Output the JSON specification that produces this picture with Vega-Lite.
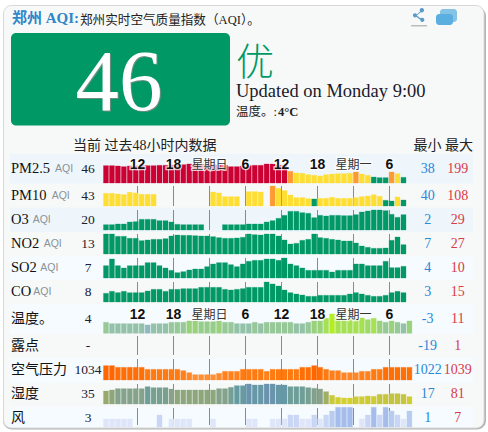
{"$schema":"https://vega.github.io/schema/vega-lite/v6.json","width":488,"height":432,"padding":0,"autosize":{"type":"none"},"background":"white","config":{"view":{"stroke":null},"scale":{"continuousPadding":0},"text":{"font":"Liberation Serif, Noto Sans CJK SC"}},
"datasets":{
"one":[{"item":1}],
"rows":[{"row":0,"label":"PM2.5","unit":"AQI","current":"46","min":"38","max":"199"},{"row":1,"label":"PM10","unit":"AQI","current":"43","min":"40","max":"108"},{"row":2,"label":"O3","unit":"AQI","current":"20","min":"2","max":"29"},{"row":3,"label":"NO2","unit":"AQI","current":"13","min":"7","max":"27"},{"row":4,"label":"SO2","unit":"AQI","current":"7","min":"4","max":"10"},{"row":5,"label":"CO","unit":"AQI","current":"8","min":"3","max":"15"},{"row":6,"label":"温度。","current":"4","min":"-3","max":"11"},{"row":7,"label":"露点","current":"-","min":"-19","max":"1"},{"row":8,"label":"空气压力","current":"1034","min":"1022","max":"1039"},{"row":9,"label":"湿度","current":"35","min":"17","max":"81"},{"row":10,"label":"风","current":"3","min":"1","max":"7"}],
"stripes":[{"row":0,"rowEnd":1,"tone":"strong"},{"row":2,"rowEnd":3,"tone":"strong"},{"row":4,"rowEnd":5,"tone":"soft"},{"row":6,"rowEnd":7,"tone":"soft"},{"row":8,"rowEnd":9,"tone":"soft"},{"row":10,"rowEnd":11,"tone":"soft"}],
"spans":[{"from":0,"to":1,"hour":[12,18,24,30,36,42,48,54]},{"from":2,"to":3,"hour":[12,18,24,30,36,42,48,54]},{"from":4,"to":5,"hour":[12,18,24,30,36,42,48,54]},{"from":6,"to":7,"hour":[12,18,24,30,36,42,48,54]},{"from":8,"to":9,"hour":[12,18,24,30,36,42,48,54]},{"from":10,"to":11,"hour":[12,18,24,30,36,42,48,54]},{"from":12,"to":13,"hour":[12,18,24,30,36,42,48,54]},{"from":14,"to":15,"hour":[12,18,24,30,36,42,48,54]},{"from":16,"to":17,"hour":[12,18,24,30,36,42,48,54]}],
"hourLabels":[{"band":0,"hour":12,"text":"12"},{"band":0,"hour":18,"text":"18"},{"band":0,"hour":30,"text":"6"},{"band":0,"hour":36,"text":"12"},{"band":0,"hour":42,"text":"18"},{"band":0,"hour":54,"text":"6"},{"band":1,"hour":12,"text":"12"},{"band":1,"hour":18,"text":"18"},{"band":1,"hour":30,"text":"6"},{"band":1,"hour":36,"text":"12"},{"band":1,"hour":42,"text":"18"},{"band":1,"hour":54,"text":"6"}],
"dayLabels":[{"band":0,"hour":24,"text":"星期日"},{"band":0,"hour":48,"text":"星期一"},{"band":1,"hour":24,"text":"星期日"},{"band":1,"hour":48,"text":"星期一"}],
"pm25":[{"hour":0,"level":52,"band":"u"},{"hour":1,"level":52,"band":"u"},{"hour":2,"level":51,"band":"u"},{"hour":3,"level":49,"band":"u"},{"hour":4,"level":51,"band":"u"},{"hour":5,"level":51,"band":"u"},{"hour":6,"level":52,"band":"u"},{"hour":7,"level":52,"band":"u"},{"hour":8,"level":52,"band":"u"},{"hour":9,"level":53,"band":"u"},{"hour":10,"level":53,"band":"u"},{"hour":11,"level":53,"band":"u"},{"hour":12,"level":53,"band":"u"},{"hour":13,"level":55,"band":"u"},{"hour":14,"level":57,"band":"u"},{"hour":15,"level":57,"band":"u"},{"hour":16,"level":57,"band":"u"},{"hour":17,"level":55,"band":"u"},{"hour":18,"level":55,"band":"u"},{"hour":19,"level":54,"band":"u"},{"hour":20,"level":53,"band":"u"},{"hour":21,"level":49,"band":"u"},{"hour":22,"level":49,"band":"u"},{"hour":23,"level":51,"band":"u"},{"hour":24,"level":52,"band":"u"},{"hour":25,"level":53,"band":"u"},{"hour":26,"level":53,"band":"u"},{"hour":27,"level":57,"band":"u"},{"hour":28,"level":57,"band":"u"},{"hour":29,"level":53,"band":"u"},{"hour":30,"level":53,"band":"u"},{"hour":31,"level":35,"band":"s"},{"hour":32,"level":30,"band":"m"},{"hour":33,"level":29,"band":"m"},{"hour":34,"level":25,"band":"m"},{"hour":35,"level":23,"band":"m"},{"hour":36,"level":21,"band":"m"},{"hour":37,"level":25,"band":"m"},{"hour":38,"level":27,"band":"m"},{"hour":39,"level":28,"band":"m"},{"hour":40,"level":28,"band":"m"},{"hour":41,"level":29,"band":"m"},{"hour":42,"level":33,"band":"s"},{"hour":43,"level":27,"band":"m"},{"hour":44,"level":23,"band":"m"},{"hour":45,"level":18,"band":"g"},{"hour":46,"level":16,"band":"g"},{"hour":47,"level":16,"band":"g"},{"hour":48,"level":33,"band":"s"},{"hour":49,"level":28,"band":"m"},{"hour":50,"level":17,"band":"g"}],
"pm10":[{"hour":0,"level":38,"band":"m"},{"hour":1,"level":38,"band":"m"},{"hour":2,"level":36,"band":"m"},{"hour":3,"level":34,"band":"m"},{"hour":4,"level":41,"band":"m"},{"hour":5,"level":39,"band":"m"},{"hour":6,"level":35,"band":"m"},{"hour":7,"level":35,"band":"m"},{"hour":8,"level":35,"band":"m"},{"hour":18,"level":42,"band":"m"},{"hour":19,"level":39,"band":"m"},{"hour":20,"level":28,"band":"m"},{"hour":21,"level":28,"band":"m"},{"hour":22,"level":28,"band":"m"},{"hour":24,"level":43,"band":"m"},{"hour":25,"level":43,"band":"m"},{"hour":26,"level":42,"band":"m"},{"hour":28,"level":60,"band":"s"},{"hour":29,"level":53,"band":"m"},{"hour":30,"level":46,"band":"m"},{"hour":31,"level":33,"band":"m"},{"hour":32,"level":25,"band":"m"},{"hour":33,"level":25,"band":"m"},{"hour":34,"level":22,"band":"m"},{"hour":35,"level":21,"band":"g"},{"hour":36,"level":23,"band":"m"},{"hour":37,"level":23,"band":"m"},{"hour":38,"level":26,"band":"m"},{"hour":39,"level":23,"band":"m"},{"hour":40,"level":23,"band":"m"},{"hour":41,"level":23,"band":"m"},{"hour":42,"level":25,"band":"m"},{"hour":43,"level":28,"band":"m"},{"hour":44,"level":30,"band":"m"},{"hour":45,"level":34,"band":"m"},{"hour":46,"level":29,"band":"m"},{"hour":47,"level":17,"band":"g"},{"hour":48,"level":15,"band":"g"},{"hour":49,"level":27,"band":"m"},{"hour":50,"level":18,"band":"g"}],
"o3":[{"hour":0,"level":16},{"hour":1,"level":16},{"hour":2,"level":18},{"hour":3,"level":18},{"hour":4,"level":24},{"hour":5,"level":25},{"hour":6,"level":32},{"hour":7,"level":32},{"hour":8,"level":32},{"hour":9,"level":28},{"hour":10,"level":28},{"hour":11,"level":24},{"hour":12,"level":17},{"hour":13,"level":16},{"hour":14,"level":16},{"hour":15,"level":16},{"hour":16,"level":16},{"hour":20,"level":16},{"hour":21,"level":16},{"hour":22,"level":16},{"hour":23,"level":16},{"hour":24,"level":18},{"hour":25,"level":18},{"hour":26,"level":18},{"hour":27,"level":24},{"hour":28,"level":28},{"hour":29,"level":35},{"hour":30,"level":44},{"hour":31,"level":56},{"hour":32,"level":56},{"hour":33,"level":52},{"hour":34,"level":50},{"hour":35,"level":37},{"hour":36,"level":44},{"hour":37,"level":42},{"hour":38,"level":44},{"hour":39,"level":44},{"hour":40,"level":43},{"hour":41,"level":43},{"hour":42,"level":46},{"hour":43,"level":54},{"hour":44,"level":57},{"hour":45,"level":60},{"hour":46,"level":60},{"hour":47,"level":58},{"hour":48,"level":47},{"hour":49,"level":38},{"hour":50,"level":46}],
"no2":[{"hour":0,"level":60},{"hour":1,"level":60},{"hour":2,"level":53},{"hour":3,"level":53},{"hour":4,"level":47},{"hour":5,"level":47},{"hour":6,"level":40},{"hour":7,"level":42},{"hour":8,"level":44},{"hour":9,"level":44},{"hour":10,"level":46},{"hour":11,"level":54},{"hour":12,"level":57},{"hour":13,"level":56},{"hour":14,"level":56},{"hour":15,"level":55},{"hour":16,"level":54},{"hour":17,"level":54},{"hour":18,"level":52},{"hour":19,"level":49},{"hour":20,"level":47},{"hour":21,"level":47},{"hour":22,"level":48},{"hour":23,"level":50},{"hour":24,"level":60},{"hour":25,"level":58},{"hour":26,"level":57},{"hour":27,"level":60},{"hour":28,"level":60},{"hour":29,"level":54},{"hour":30,"level":42},{"hour":31,"level":30},{"hour":32,"level":32},{"hour":33,"level":41},{"hour":34,"level":44},{"hour":35,"level":60},{"hour":36,"level":49},{"hour":37,"level":47},{"hour":38,"level":44},{"hour":39,"level":42},{"hour":40,"level":39},{"hour":41,"level":39},{"hour":42,"level":33},{"hour":43,"level":24},{"hour":44,"level":20},{"hour":45,"level":17},{"hour":46,"level":17},{"hour":47,"level":18},{"hour":48,"level":41},{"hour":49,"level":51},{"hour":50,"level":28}],
"so2":[{"hour":0,"level":37},{"hour":1,"level":57},{"hour":2,"level":37},{"hour":3,"level":30},{"hour":4,"level":37},{"hour":5,"level":37},{"hour":6,"level":37},{"hour":7,"level":46},{"hour":8,"level":46},{"hour":9,"level":37},{"hour":10,"level":30},{"hour":11,"level":23},{"hour":12,"level":16},{"hour":13,"level":19},{"hour":14,"level":24},{"hour":15,"level":27},{"hour":16,"level":27},{"hour":17,"level":34},{"hour":18,"level":42},{"hour":19,"level":46},{"hour":20,"level":46},{"hour":21,"level":40},{"hour":22,"level":34},{"hour":23,"level":42},{"hour":24,"level":50},{"hour":25,"level":53},{"hour":26,"level":53},{"hour":27,"level":57},{"hour":28,"level":57},{"hour":29,"level":53},{"hour":30,"level":60},{"hour":31,"level":42},{"hour":32,"level":37},{"hour":33,"level":30},{"hour":34,"level":23},{"hour":35,"level":23},{"hour":36,"level":23},{"hour":37,"level":23},{"hour":38,"level":18},{"hour":39,"level":23},{"hour":40,"level":23},{"hour":41,"level":23},{"hour":42,"level":42},{"hour":43,"level":42},{"hour":44,"level":37},{"hour":45,"level":37},{"hour":46,"level":37},{"hour":47,"level":50},{"hour":48,"level":31},{"hour":49,"level":31},{"hour":50,"level":35}],
"co":[{"hour":0,"level":26},{"hour":1,"level":32},{"hour":2,"level":28},{"hour":3,"level":32},{"hour":4,"level":28},{"hour":5,"level":28},{"hour":6,"level":28},{"hour":7,"level":33},{"hour":8,"level":38},{"hour":9,"level":38},{"hour":10,"level":32},{"hour":11,"level":38},{"hour":12,"level":38},{"hour":13,"level":40},{"hour":14,"level":40},{"hour":15,"level":40},{"hour":16,"level":44},{"hour":17,"level":44},{"hour":18,"level":44},{"hour":19,"level":44},{"hour":20,"level":38},{"hour":21,"level":36},{"hour":22,"level":38},{"hour":23,"level":40},{"hour":24,"level":44},{"hour":25,"level":44},{"hour":26,"level":44},{"hour":27,"level":60},{"hour":28,"level":54},{"hour":29,"level":48},{"hour":30,"level":36},{"hour":31,"level":28},{"hour":32,"level":24},{"hour":33,"level":21},{"hour":34,"level":17},{"hour":35,"level":17},{"hour":36,"level":20},{"hour":37,"level":20},{"hour":38,"level":20},{"hour":39,"level":20},{"hour":40,"level":20},{"hour":41,"level":24},{"hour":42,"level":28},{"hour":43,"level":24},{"hour":44,"level":20},{"hour":45,"level":17},{"hour":46,"level":17},{"hour":47,"level":20},{"hour":48,"level":28},{"hour":49,"level":32},{"hour":50,"level":28}],
"temp":[{"hour":0,"level":33},{"hour":1,"level":29},{"hour":2,"level":29},{"hour":3,"level":29},{"hour":4,"level":29},{"hour":5,"level":29},{"hour":6,"level":29},{"hour":7,"level":25},{"hour":8,"level":29},{"hour":9,"level":29},{"hour":10,"level":29},{"hour":11,"level":33},{"hour":12,"level":33},{"hour":13,"level":33},{"hour":14,"level":37},{"hour":15,"level":37},{"hour":16,"level":35},{"hour":17,"level":35},{"hour":18,"level":35},{"hour":19,"level":37},{"hour":20,"level":33},{"hour":21,"level":33},{"hour":22,"level":29},{"hour":23,"level":29},{"hour":24,"level":29},{"hour":25,"level":33},{"hour":26,"level":29},{"hour":27,"level":33},{"hour":28,"level":33},{"hour":29,"level":33},{"hour":30,"level":33},{"hour":31,"level":33},{"hour":32,"level":29},{"hour":33,"level":29},{"hour":34,"level":33},{"hour":35,"level":37},{"hour":36,"level":37},{"hour":37,"level":45},{"hour":38,"level":58},{"hour":39,"level":46},{"hour":40,"level":45},{"hour":41,"level":45},{"hour":42,"level":46},{"hour":43,"level":46},{"hour":44,"level":41},{"hour":45,"level":45},{"hour":46,"level":37},{"hour":47,"level":33},{"hour":48,"level":37},{"hour":49,"level":33},{"hour":50,"level":29},{"hour":51,"level":37}],
"pressure":[{"hour":0,"level":43},{"hour":1,"level":43},{"hour":2,"level":38},{"hour":3,"level":38},{"hour":4,"level":38},{"hour":5,"level":38},{"hour":6,"level":38},{"hour":7,"level":32},{"hour":8,"level":32},{"hour":9,"level":32},{"hour":10,"level":32},{"hour":11,"level":32},{"hour":12,"level":32},{"hour":13,"level":28},{"hour":14,"level":22},{"hour":15,"level":16},{"hour":16,"level":16},{"hour":17,"level":16},{"hour":18,"level":16},{"hour":19,"level":20},{"hour":20,"level":26},{"hour":21,"level":26},{"hour":22,"level":26},{"hour":23,"level":32},{"hour":24,"level":32},{"hour":25,"level":32},{"hour":26,"level":32},{"hour":27,"level":26},{"hour":28,"level":32},{"hour":29,"level":32},{"hour":30,"level":32},{"hour":31,"level":32},{"hour":32,"level":32},{"hour":33,"level":38},{"hour":34,"level":38},{"hour":35,"level":43},{"hour":36,"level":38},{"hour":37,"level":32},{"hour":38,"level":28},{"hour":39,"level":28},{"hour":40,"level":22},{"hour":41,"level":22},{"hour":42,"level":22},{"hour":43,"level":26},{"hour":44,"level":26},{"hour":45,"level":32},{"hour":46,"level":32},{"hour":47,"level":38},{"hour":48,"level":38},{"hour":49,"level":38},{"hour":50,"level":38},{"hour":51,"level":38}],
"humidity":[{"hour":0,"level":39},{"hour":1,"level":42},{"hour":2,"level":46},{"hour":3,"level":46},{"hour":4,"level":46},{"hour":5,"level":46},{"hour":6,"level":46},{"hour":7,"level":52},{"hour":8,"level":49},{"hour":9,"level":49},{"hour":10,"level":49},{"hour":11,"level":45},{"hour":12,"level":42},{"hour":13,"level":42},{"hour":14,"level":42},{"hour":15,"level":42},{"hour":16,"level":42},{"hour":17,"level":42},{"hour":18,"level":42},{"hour":19,"level":46},{"hour":20,"level":46},{"hour":21,"level":50},{"hour":22,"level":55},{"hour":23,"level":55},{"hour":24,"level":60},{"hour":25,"level":57},{"hour":26,"level":57},{"hour":27,"level":60},{"hour":28,"level":60},{"hour":29,"level":57},{"hour":30,"level":57},{"hour":31,"level":52},{"hour":32,"level":52},{"hour":33,"level":52},{"hour":34,"level":49},{"hour":35,"level":47},{"hour":36,"level":45},{"hour":37,"level":37},{"hour":38,"level":26},{"hour":39,"level":20},{"hour":40,"level":18},{"hour":41,"level":18},{"hour":42,"level":22},{"hour":43,"level":22},{"hour":44,"level":24},{"hour":45,"level":23},{"hour":46,"level":29},{"hour":47,"level":29},{"hour":48,"level":31},{"hour":49,"level":31},{"hour":50,"level":29},{"hour":51,"level":22}],
"wind":[{"hour":0,"level":24},{"hour":1,"level":24},{"hour":2,"level":24},{"hour":3,"level":24},{"hour":4,"level":24},{"hour":9,"level":36},{"hour":11,"level":24},{"hour":12,"level":24},{"hour":13,"level":24},{"hour":14,"level":24},{"hour":18,"level":24},{"hour":24,"level":24},{"hour":25,"level":24},{"hour":28,"level":24},{"hour":29,"level":24},{"hour":30,"level":24},{"hour":31,"level":36},{"hour":32,"level":36},{"hour":33,"level":24},{"hour":34,"level":24},{"hour":35,"level":36},{"hour":36,"level":24},{"hour":37,"level":36},{"hour":38,"level":48},{"hour":39,"level":59},{"hour":40,"level":59},{"hour":41,"level":59},{"hour":43,"level":24},{"hour":44,"level":36},{"hour":45,"level":59},{"hour":46,"level":36},{"hour":47,"level":59},{"hour":48,"level":48},{"hour":49,"level":36},{"hour":50,"level":24},{"hour":51,"level":48}]
},
"data":{"name":"rows"},
"layer":[
{"data":{"name":"one"},"mark":{"type":"rect","fill":"#b4b4b4","cornerRadius":9},"encoding":{"x":{"value":3},"x2":{"value":486},"y":{"value":7},"y2":{"value":429.5}}},
{"data":{"name":"one"},"mark":{"type":"rect","fill":"#f7f9f9","stroke":"#d8d8d8","strokeWidth":1,"cornerRadius":8},"encoding":{"x":{"value":3.5},"x2":{"value":484},"y":{"value":5.5},"y2":{"value":428}}},
{"data":{"name":"stripes"},"mark":{"type":"rect"},"encoding":{"x":{"value":10},"x2":{"value":473},"y":{"field":"row","type":"quantitative","axis":null,"scale":{"domain":[0,1,2,3,4,5,6,7,8,9,10,11],"range":[154,183.5,207.5,232,256,280,304,334,358,383,407,427]}},"y2":{"field":"rowEnd"},"color":{"field":"tone","type":"nominal","legend":null,"scale":{"domain":["strong","soft"],"range":["#eef6fc","#f5fbff"]}}}},
{"data":{"name":"one"},"mark":{"type":"rect","fill":"#009966","cornerRadius":5},"encoding":{"x":{"value":11},"x2":{"value":230},"y":{"value":33},"y2":{"value":125.5}}},
{"data":{"name":"one"},"mark":{"type":"text","text":"46","fontSize":87,"align":"center","baseline":"alphabetic","fill":"#6f8f80","dx":1,"dy":1},"encoding":{"x":{"value":119},"y":{"value":110}}},
{"data":{"name":"one"},"mark":{"type":"text","text":"46","fontSize":87,"align":"center","baseline":"alphabetic","fill":"#ffffff"},"encoding":{"x":{"value":119},"y":{"value":110}}},
{"data":{"name":"one"},"mark":{"type":"text","text":"郑州 AQI:","fontSize":15,"fontWeight":"bold","align":"left","baseline":"alphabetic","fill":"#2f86c8"},"encoding":{"x":{"value":12},"y":{"value":23}}},
{"data":{"name":"one"},"mark":{"type":"text","text":"郑州实时空气质量指数（AQI）。","fontSize":12.6,"align":"left","baseline":"alphabetic","fill":"#222222"},"encoding":{"x":{"value":80},"y":{"value":23.5}}},
{"data":{"name":"one"},"mark":{"type":"text","text":"优","fontSize":38,"align":"left","baseline":"alphabetic","fill":"#009966","fontWeight":300},"encoding":{"x":{"value":236},"y":{"value":75}}},
{"data":{"name":"one"},"mark":{"type":"text","text":"Updated on Monday 9:00","fontSize":18.5,"align":"left","baseline":"alphabetic","fill":"#1a1a2a"},"encoding":{"x":{"value":236},"y":{"value":97}}},
{"data":{"name":"one"},"mark":{"type":"text","text":"温度。:","fontSize":12.5,"align":"left","baseline":"alphabetic","fill":"#222222"},"encoding":{"x":{"value":236},"y":{"value":116}}},
{"data":{"name":"one"},"mark":{"type":"text","text":"4°C","fontSize":12.5,"fontWeight":"bold","align":"left","baseline":"alphabetic","fill":"#222222"},"encoding":{"x":{"value":278},"y":{"value":116}}},
{"data":{"name":"one"},"mark":{"type":"text","text":"当前 过去48小时内数据","fontSize":14,"align":"left","baseline":"alphabetic","fill":"#222222"},"encoding":{"x":{"value":73},"y":{"value":150}}},
{"data":{"name":"one"},"mark":{"type":"text","text":"最小 最大","fontSize":14,"align":"left","baseline":"alphabetic","fill":"#222222"},"encoding":{"x":{"value":413.5},"y":{"value":150}}},
{"data":{"name":"one"},"mark":{"type":"point","filled":true,"opacity":1,"fill":"#5b9bc8","size":320,"shape":"M0.55,-0.55A0.22,0.22 0 1 1 0.1,-0.75A0.22,0.22 0 1 1 0.55,-0.55M-0.22,-0.05A0.22,0.22 0 1 1 -0.68,-0.1A0.22,0.22 0 1 1 -0.22,-0.05M0.6,0.45A0.22,0.22 0 1 1 0.14,0.42A0.22,0.22 0 1 1 0.6,0.45M0.22,-0.6L0.3,-0.5L-0.25,-0.05L0.3,0.35L0.22,0.47L-0.42,0Z"},"encoding":{"x":{"value":419},"y":{"value":16}}},
{"data":{"name":"one"},"mark":{"type":"rect","fill":"#bbbbbb"},"encoding":{"x":{"value":411},"x2":{"value":427},"y":{"value":25},"y2":{"value":26.5}}},
{"data":{"name":"one"},"mark":{"type":"rect","fill":"#85c3e6","cornerRadius":3},"encoding":{"x":{"value":440},"x2":{"value":457},"y":{"value":9},"y2":{"value":22}}},
{"data":{"name":"one"},"mark":{"type":"rect","fill":"#5aaee0","cornerRadius":3},"encoding":{"x":{"value":436},"x2":{"value":453},"y":{"value":14},"y2":{"value":25}}},
{"data":{"name":"spans"},"transform":[{"flatten":["hour"]}],"mark":{"type":"rule","stroke":"#8a8a8a","strokeWidth":1},"encoding":{"x":{"field":"hour","type":"quantitative","axis":null,"scale":{"domain":[12,54],"range":[137.5,389.5]}},"y":{"field":"from","type":"quantitative","axis":null,"scale":{"domain":[0,1,2,3,4,5,6,7,8,9,10,11,12,13,14,15,16,17],"range":[186,206,210,230,234,254,258,278,282,302,336,355,359,380,384,404,408,425]}},"y2":{"field":"to"}}},
{"data":{"name":"pm25"},"mark":{"type":"bar","orient":"vertical","size":5,"strokeWidth":1,"strokeOpacity":0.3},"encoding":{"x":{"field":"hour","type":"quantitative","axis":null,"scale":{"domain":[-0.5,51.5],"range":[103,412.4]}},"y":{"field":"level","type":"quantitative","axis":null,"scale":{"domain":[0,60],"range":[183,163]}},"color":{"field":"band","type":"nominal","legend":null,"scale":{"domain":["g","m","s","u"],"range":["#009966","#ffde33","#ff9933","#cc0033"]}},"stroke":{"field":"band","type":"nominal","legend":null,"scale":{"domain":["g","m","s","u"],"range":["#009966","#ffde33","#ff9933","#cc0033"]}}}},
{"data":{"name":"pm10"},"mark":{"type":"bar","orient":"vertical","size":5,"strokeWidth":1,"strokeOpacity":0.3},"encoding":{"x":{"field":"hour","type":"quantitative","axis":null,"scale":{"domain":[-0.5,51.5],"range":[103,412.4]}},"y":{"field":"level","type":"quantitative","axis":null,"scale":{"domain":[0,60],"range":[206,186]}},"color":{"field":"band","type":"nominal","legend":null,"scale":{"domain":["g","m","s","u"],"range":["#009966","#ffde33","#ff9933","#cc0033"]}},"stroke":{"field":"band","type":"nominal","legend":null,"scale":{"domain":["g","m","s","u"],"range":["#009966","#ffde33","#ff9933","#cc0033"]}}}},
{"data":{"name":"o3"},"mark":{"type":"bar","orient":"vertical","size":5,"fill":"#009966","stroke":"#009966","strokeWidth":1,"strokeOpacity":0.3},"encoding":{"x":{"field":"hour","type":"quantitative","axis":null,"scale":{"domain":[-0.5,51.5],"range":[103,412.4]}},"y":{"field":"level","type":"quantitative","axis":null,"scale":{"domain":[0,60],"range":[230,210]}}}},
{"data":{"name":"no2"},"mark":{"type":"bar","orient":"vertical","size":5,"fill":"#009966","stroke":"#009966","strokeWidth":1,"strokeOpacity":0.3},"encoding":{"x":{"field":"hour","type":"quantitative","axis":null,"scale":{"domain":[-0.5,51.5],"range":[103,412.4]}},"y":{"field":"level","type":"quantitative","axis":null,"scale":{"domain":[0,60],"range":[254,234]}}}},
{"data":{"name":"so2"},"mark":{"type":"bar","orient":"vertical","size":5,"fill":"#009966","stroke":"#009966","strokeWidth":1,"strokeOpacity":0.3},"encoding":{"x":{"field":"hour","type":"quantitative","axis":null,"scale":{"domain":[-0.5,51.5],"range":[103,412.4]}},"y":{"field":"level","type":"quantitative","axis":null,"scale":{"domain":[0,60],"range":[278,258]}}}},
{"data":{"name":"co"},"mark":{"type":"bar","orient":"vertical","size":5,"fill":"#009966","stroke":"#009966","strokeWidth":1,"strokeOpacity":0.3},"encoding":{"x":{"field":"hour","type":"quantitative","axis":null,"scale":{"domain":[-0.5,51.5],"range":[103,412.4]}},"y":{"field":"level","type":"quantitative","axis":null,"scale":{"domain":[0,60],"range":[302,282]}}}},
{"data":{"name":"temp"},"mark":{"type":"bar","orient":"vertical","size":5,"strokeWidth":1,"strokeOpacity":0.3},"encoding":{"x":{"field":"hour","type":"quantitative","axis":null,"scale":{"domain":[-0.5,51.5],"range":[103,412.4]}},"y":{"field":"level","type":"quantitative","axis":null,"scale":{"domain":[0,60],"range":[333.3,313.3]}},"color":{"field":"level","type":"quantitative","legend":null,"scale":{"domain":[25,29,33,37,45,58],"range":["#8fb8c0","#94c2a8","#97c898","#9ad27c","#a5e055","#b4ee20"]}},"stroke":{"field":"level","type":"quantitative","legend":null,"scale":{"domain":[25,29,33,37,45,58],"range":["#8fb8c0","#94c2a8","#97c898","#9ad27c","#a5e055","#b4ee20"]}}}},
{"data":{"name":"pressure"},"mark":{"type":"bar","orient":"vertical","size":5,"strokeWidth":1,"strokeOpacity":0.3},"encoding":{"x":{"field":"hour","type":"quantitative","axis":null,"scale":{"domain":[-0.5,51.5],"range":[103,412.4]}},"y":{"field":"level","type":"quantitative","axis":null,"scale":{"domain":[0,60],"range":[380,360]}},"color":{"field":"level","type":"quantitative","legend":null,"scale":{"domain":[16,32,43],"range":["#ff8f33","#ff7a10","#ff6600"]}},"stroke":{"field":"level","type":"quantitative","legend":null,"scale":{"domain":[16,32,43],"range":["#ff8f33","#ff7a10","#ff6600"]}}}},
{"data":{"name":"humidity"},"mark":{"type":"bar","orient":"vertical","size":5,"strokeWidth":1,"strokeOpacity":0.3},"encoding":{"x":{"field":"hour","type":"quantitative","axis":null,"scale":{"domain":[-0.5,51.5],"range":[103,412.4]}},"y":{"field":"level","type":"quantitative","axis":null,"scale":{"domain":[0,60],"range":[404,384]}},"color":{"field":"level","type":"quantitative","legend":null,"scale":{"domain":[18,31,39,45,60],"range":["#d4d030","#c4c440","#97a96b","#8aa28a","#6a93ad"]}},"stroke":{"field":"level","type":"quantitative","legend":null,"scale":{"domain":[18,31,39,45,60],"range":["#d4d030","#c4c440","#97a96b","#8aa28a","#6a93ad"]}}}},
{"data":{"name":"wind"},"mark":{"type":"bar","orient":"vertical","size":5,"strokeWidth":1,"strokeOpacity":0.3},"encoding":{"x":{"field":"hour","type":"quantitative","axis":null,"scale":{"domain":[-0.5,51.5],"range":[103,412.4]}},"y":{"field":"level","type":"quantitative","axis":null,"scale":{"domain":[0,60],"range":[427,407]}},"color":{"field":"level","type":"quantitative","legend":null,"scale":{"domain":[24,36,48,59],"range":["#dfe6f9","#c9d6f5","#b8ccf0","#a6bdec"]}},"stroke":{"field":"level","type":"quantitative","legend":null,"scale":{"domain":[24,36,48,59],"range":["#dfe6f9","#c9d6f5","#b8ccf0","#a6bdec"]}}}},
{"data":{"name":"hourLabels"},"mark":{"type":"text","font":"Liberation Sans","fontWeight":"bold","fontSize":14,"align":"center","baseline":"middle","stroke":"#ffffff","strokeWidth":2.5,"strokeOpacity":0.75,"fill":"#ffffff"},"encoding":{"x":{"field":"hour","type":"quantitative","axis":null,"scale":{"domain":[12,54],"range":[137.5,389.5]}},"y":{"field":"band","type":"quantitative","axis":null,"scale":{"domain":[0,1],"range":[165,314.5]}},"text":{"field":"text"}}},
{"data":{"name":"dayLabels"},"mark":{"type":"text","font":"Noto Sans CJK SC","fontSize":12,"align":"center","baseline":"middle","stroke":"#ffffff","strokeWidth":2.5,"strokeOpacity":0.75,"fill":"#ffffff"},"encoding":{"x":{"field":"hour","type":"quantitative","axis":null,"scale":{"domain":[12,54],"range":[137.5,389.5]}},"y":{"field":"band","type":"quantitative","axis":null,"scale":{"domain":[0,1],"range":[165,314.5]}},"text":{"field":"text"}}},
{"data":{"name":"hourLabels"},"mark":{"type":"text","font":"Liberation Sans","fontWeight":"bold","fontSize":14,"align":"center","baseline":"middle","fill":"#111111"},"encoding":{"x":{"field":"hour","type":"quantitative","axis":null,"scale":{"domain":[12,54],"range":[137.5,389.5]}},"y":{"field":"band","type":"quantitative","axis":null,"scale":{"domain":[0,1],"range":[165,314.5]}},"text":{"field":"text"}}},
{"data":{"name":"dayLabels"},"mark":{"type":"text","font":"Noto Sans CJK SC","fontSize":12,"align":"center","baseline":"middle","fill":"#333333"},"encoding":{"x":{"field":"hour","type":"quantitative","axis":null,"scale":{"domain":[12,54],"range":[137.5,389.5]}},"y":{"field":"band","type":"quantitative","axis":null,"scale":{"domain":[0,1],"range":[165,314.5]}},"text":{"field":"text"}}},
{"transform":[{"filter":"datum.row<=5"}],"mark":{"type":"text","fontSize":14.5,"align":"left","baseline":"middle","fill":"#111111"},"encoding":{"x":{"value":11},"y":{"field":"row","type":"quantitative","axis":null,"scale":{"domain":[0,1,2,3,4,5,6,7,8,9,10],"range":[169,196,220,244,268,292,319,346,370,394,418]}},"text":{"field":"label"}}},
{"transform":[{"filter":"datum.row>5"}],"mark":{"type":"text","font":"Noto Sans CJK SC","fontSize":14,"align":"left","baseline":"middle","fill":"#111111"},"encoding":{"x":{"value":11},"y":{"field":"row","type":"quantitative","axis":null,"scale":{"domain":[0,1,2,3,4,5,6,7,8,9,10],"range":[169,196,220,244,268,292,319,346,370,394,418]}},"text":{"field":"label"}}},
{"transform":[{"filter":"datum.row<=5"}],"mark":{"type":"text","font":"Liberation Sans","fontSize":10.5,"align":"left","baseline":"middle","fill":"#8a9296"},"encoding":{"x":{"field":"row","type":"quantitative","axis":null,"scale":{"domain":[0,1,2,3,4,5],"range":[55,51.7,32.7,43.7,40.3,33.3]}},"y":{"field":"row","type":"quantitative","axis":null,"scale":{"domain":[0,1,2,3,4,5,6,7,8,9,10],"range":[169,196,220,244,268,292,319,346,370,394,418]}},"text":{"field":"unit"}}},
{"mark":{"type":"text","fontSize":13.5,"align":"center","baseline":"middle","fill":"#1a2030"},"encoding":{"x":{"value":88},"y":{"field":"row","type":"quantitative","axis":null,"scale":{"domain":[0,1,2,3,4,5,6,7,8,9,10],"range":[169,196,220,244,268,292,319,346,370,394,418]}},"text":{"field":"current"}}},
{"mark":{"type":"text","fontSize":14,"align":"center","baseline":"middle","fill":"#2a88d8"},"encoding":{"x":{"value":427.7},"y":{"field":"row","type":"quantitative","axis":null,"scale":{"domain":[0,1,2,3,4,5,6,7,8,9,10],"range":[169,196,220,244,268,292,319,346,370,394,418]}},"text":{"field":"min"}}},
{"mark":{"type":"text","fontSize":14,"align":"center","baseline":"middle","fill":"#d83a48"},"encoding":{"x":{"value":457.7},"y":{"field":"row","type":"quantitative","axis":null,"scale":{"domain":[0,1,2,3,4,5,6,7,8,9,10],"range":[169,196,220,244,268,292,319,346,370,394,418]}},"text":{"field":"max"}}}
],
"resolve":{"scale":{"x":"independent","y":"independent","color":"independent","stroke":"independent"}}}
